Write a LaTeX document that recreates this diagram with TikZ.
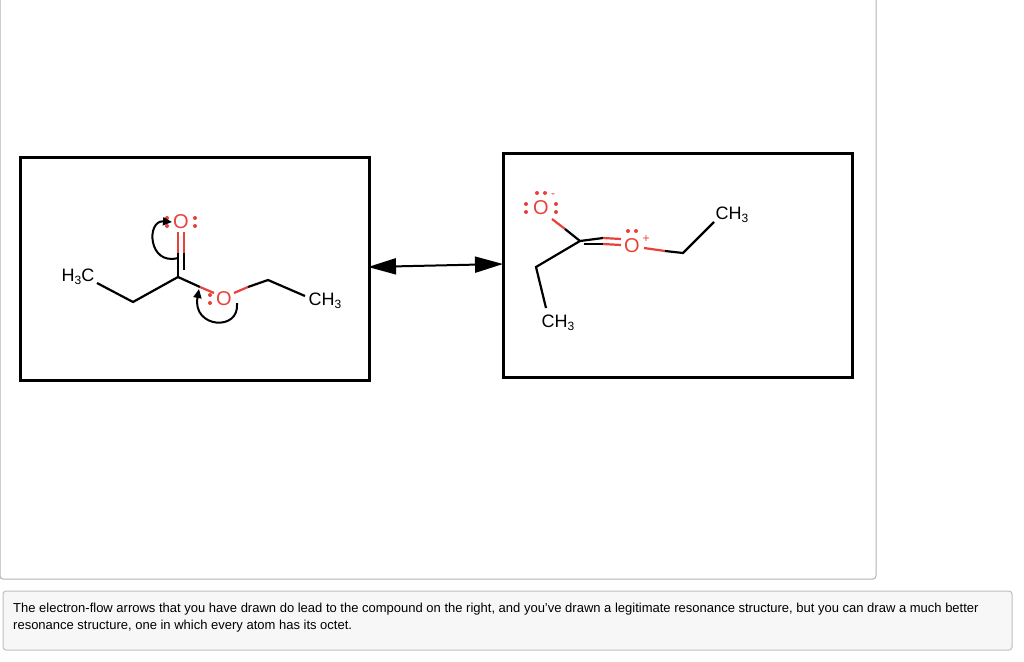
\documentclass[tikz,border=0pt]{standalone}
\usepackage{fontspec}
\setmainfont{Liberation Sans}
\usetikzlibrary{arrows.meta}
\definecolor{ored}{HTML}{E8403A}
\newcommand{\sbt}[1]{\raisebox{-0.35ex}{\fontsize{12}{12}\selectfont #1}}
\begin{document}
\begin{tikzpicture}[x=1pt,y=-1pt,
  bond/.style={line width=2.2pt},
  rbond/.style={line width=2.2pt,ored},
  box/.style={draw,line width=3pt},
  atom/.style={inner sep=0pt,font=\fontsize{20}{20}\selectfont},
  oatom/.style={atom,text=ored},
  lbl/.style={inner sep=0pt,font=\fontsize{18}{18}\selectfont},
  dot/.style={fill=ored,circle,inner sep=0pt,minimum size=4pt},
  curv/.style={line width=2pt,-{Triangle[length=9pt,width=8pt]}}]
\useasboundingbox (0,0) rectangle (1024,661);
\draw[gray!60,line width=1pt,rounded corners=3pt] (0,-5) rectangle (876,579);
\draw[gray!50,fill=gray!6,line width=1pt,rounded corners=3pt] (3,591) rectangle (1012,650);
\node[anchor=north west,align=left,inner sep=0pt,font=\fontsize{13}{16.5}\selectfont] (fb) at (13,603)
 {The electron-flow arrows that you have drawn do lead to the compound on the right, and you've drawn a legitimate resonance structure, but you can draw a much better\\resonance structure, one in which every atom has its octet.};
\node[box,minimum width=349pt,minimum height=223pt,anchor=north west] (L) at (19,156) {};
\node[box,minimum width=349pt,minimum height=224pt,anchor=north west] (R) at (502,152) {};
\coordinate (la) at (368,267); \coordinate (ra) at (503,264);
\draw[line width=2pt,{Triangle[length=28pt,width=16pt]}-{Triangle[length=28pt,width=16pt]}] (la) -- (ra);
% left molecule
\node[lbl] (h3c) at (78,277) {H\sbt{3}C};
\coordinate (a1) at (133,302); \coordinate (c1) at (178,277);
\node[oatom] (o1) at (181,222) {O};
\node[oatom] (o2) at (224,299) {O};
\coordinate (a2) at (268,280);
\node[lbl] (ch3a) at (325,301) {CH\sbt{3}};
\draw[bond] (97,283) -- (a1) -- (c1);
\draw[bond] (c1) -- (178,253) (184,270) -- (184,253);
\draw[rbond] (178,253) -- (178,232) (184,253) -- (184,232);
\draw[bond] (c1) -- (200,287); \draw[rbond] (200,287) -- (214,293);
\draw[rbond] (234,293) -- (248,287); \draw[bond] (248,287) -- (a2) -- (305,296);
\node[dot] at (167,218) {}; \node[dot] at (167,226) {};
\node[dot] at (195,218) {}; \node[dot] at (195,226) {};
\node[dot] at (210,295) {}; \node[dot] at (210,303) {};
\draw[curv] (178,258) .. controls (148,266) and (146,220) .. (172,222);
\draw[curv] (237,303) .. controls (240,332) and (192,328) .. (199,289);
% right molecule
\node[oatom] (o3) at (541,208) {O};
\node[oatom] (o4) at (632,246) {O};
\coordinate (c2) at (580,241); \coordinate (b1) at (536,267);
\coordinate (b2) at (683,253); \coordinate (b3) at (714,222);
\node[lbl] (ch3b) at (732,215) {CH\sbt{3}};
\node[lbl] (ch3c) at (558,323) {CH\sbt{3}};
\draw[rbond] (552,219) -- (565,229); \draw[bond] (565,229) -- (c2);
\draw[bond] (c2) -- (603,238) (c2) -- (b1) -- (546,308);
\draw[rbond] (603,238) -- (621,239);
\draw[bond] (584,244) -- (603,244); \draw[rbond] (603,244) -- (621,245);
\draw[rbond] (644,248) -- (665,251); \draw[bond] (665,251) -- (b2) -- (b3);
\node[dot] at (526,204) {}; \node[dot] at (526,212) {};
\node[dot] at (556,204) {}; \node[dot] at (556,212) {};
\node[dot] at (537,193) {}; \node[dot] at (545,193) {};
\node[dot] at (628,231) {}; \node[dot] at (636,231) {};
\node[inner sep=0pt,text=ored,font=\fontsize{12}{12}\selectfont] at (553,196) {-};
\node[inner sep=0pt,text=ored,font=\fontsize{12}{12}\selectfont] at (646,239) {+};
\end{tikzpicture}
\end{document}
